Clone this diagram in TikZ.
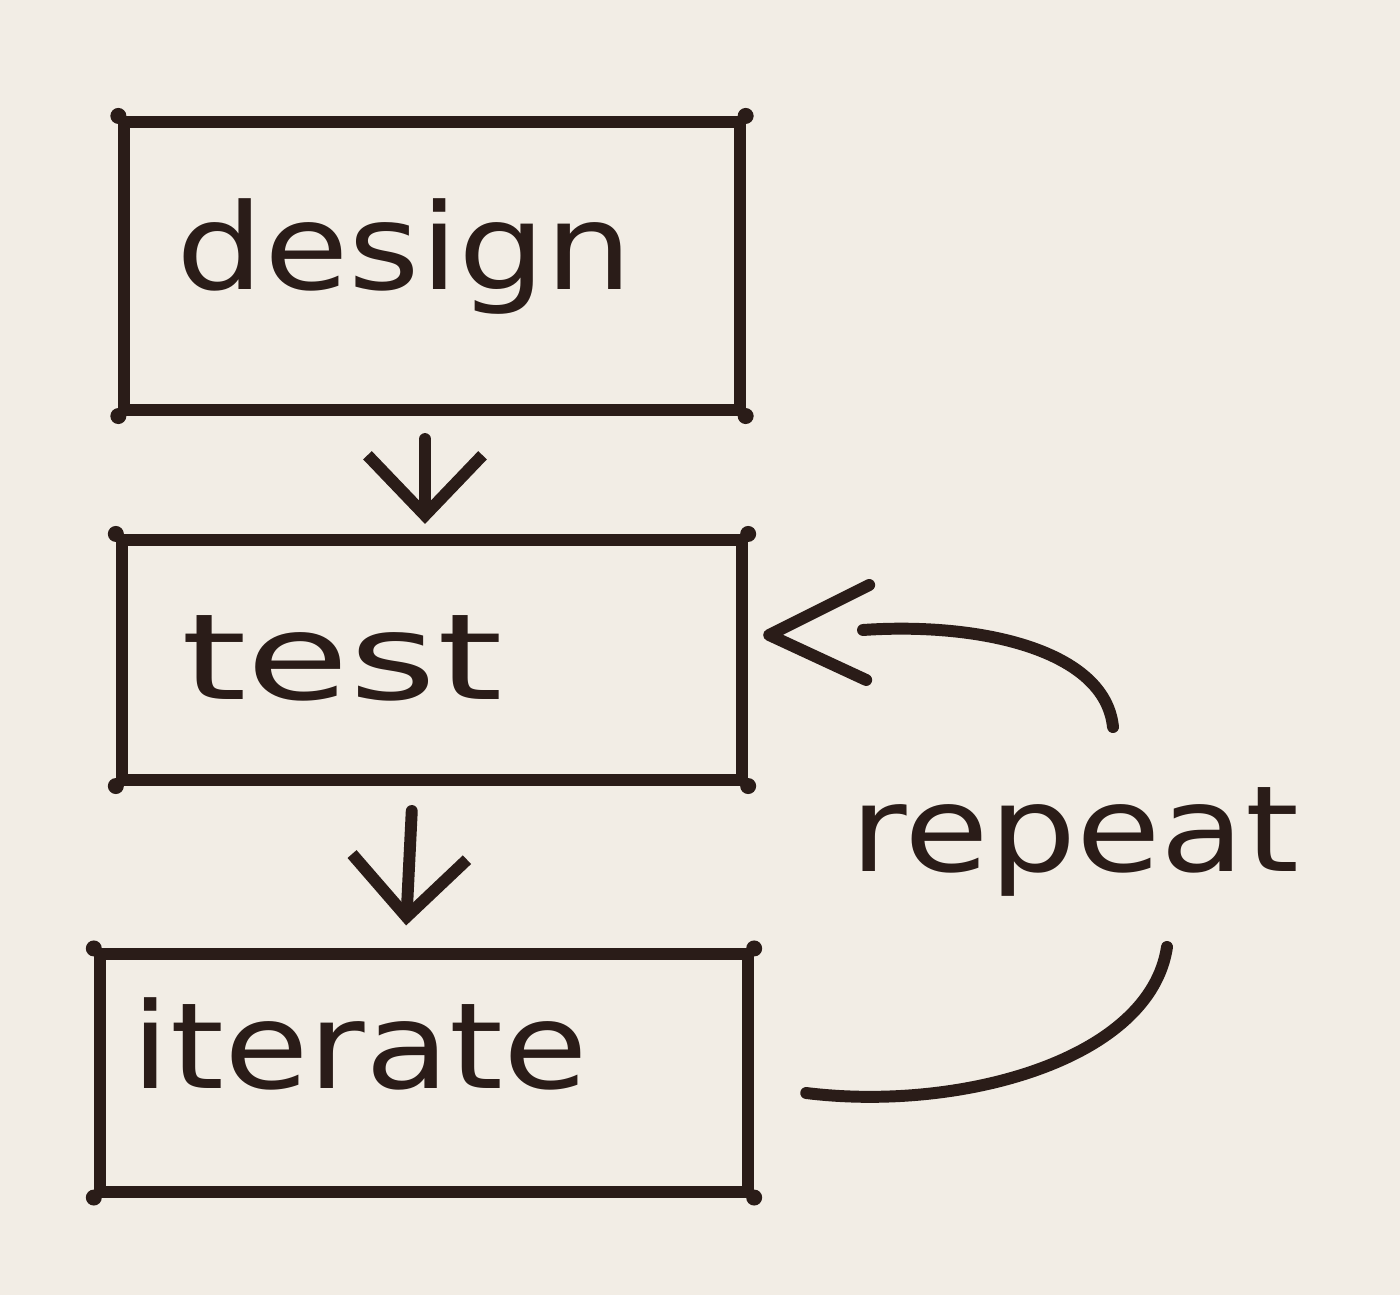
\documentclass[tikz,border=0pt]{standalone}
\usepackage{fontspec}
\newfontfamily\hand[FakeStretch=1.15]{DejaVu Sans}
\newfontfamily\handwide[FakeStretch=1.4]{DejaVu Sans}
\usetikzlibrary{arrows.meta,calc}
\definecolor{paper}{HTML}{F2EDE5}
\definecolor{ink}{HTML}{2A1C18}
\begin{document}
\begin{tikzpicture}[x=0.01cm,y=-0.01cm,
  boxst/.style={draw=ink, line width=3.4pt, inner sep=0pt},
  lbl/.style={text=ink, font=\hand\fontsize{34}{40}\selectfont, inner sep=0pt, anchor=base},
  inkline/.style={draw=ink, line width=3.4pt, line cap=round, line join=round},
  downarr/.style={inkline, -{Straight Barb[length=0.6cm,width=1.15cm,line width=3.4pt]}},
  dot/.style={fill=ink}
]
\fill[paper] (0,0) rectangle (1400,1295);
\useasboundingbox (0,0) rectangle (1400,1295);

% boxes
\node[boxst, minimum width=6.15cm, minimum height=2.88cm] (design) at (432,266) {};
\node[boxst, minimum width=6.20cm, minimum height=2.40cm] (test) at (432,660) {};
\node[boxst, minimum width=6.48cm, minimum height=2.37cm] (iterate) at (424,1073) {};

% corner dots
\foreach \b in {design,test,iterate}{
  \foreach \c in {north west,north east,south west,south east}{
    \fill[dot] (\b.\c) circle (8);
  }
}

% labels
\node[lbl] (designT) at (405,290) {design};
\node[lbl, font=\handwide\fontsize{34}{40}\selectfont] (testT) at (342,700) {test};
\node[lbl] (iterateT) at (360,1088) {iterate};
\node[lbl] (repeat) at (1075,872) {repeat};

% down arrows
\draw[downarr, shorten <=0.23cm, shorten >=0.1cm] ([xshift=-0.07cm]design.south) -- ([xshift=-0.07cm]test.north);
\draw[downarr, shorten <=0.25cm, shorten >=0.23cm] ([xshift=-0.19cm]test.south) -- ([xshift=-0.19cm]iterate.north);

% repeat loop
\coordinate (r1) at (1167,947);
\coordinate (r2) at (1113,727);
\draw[inkline] ([xshift=0.52cm,yshift=-0.2cm]iterate.east)
  .. controls (960,1112) and (1150,1060) .. (r1);
\draw[inkline] (r2) .. controls (1105,650) and (980,622) .. (863,630);
\coordinate (tip) at ([xshift=0.21cm,yshift=0.25cm]test.east);
\draw[inkline] ($(tip)+(100,-50)$) -- (tip) -- ($(tip)+(97,45)$);
\end{tikzpicture}
\end{document}
